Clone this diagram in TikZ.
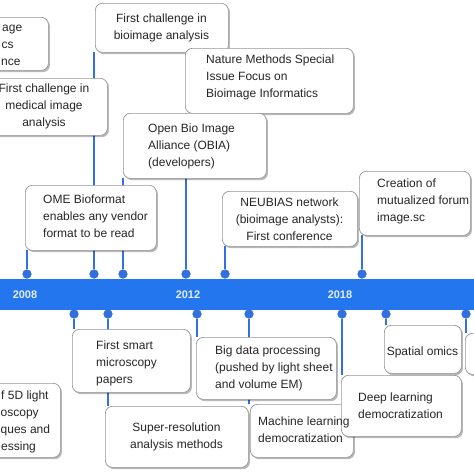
\documentclass[tikz,border=0pt]{standalone}
\usepackage{fontspec}
\setmainfont{Liberation Sans}
\usetikzlibrary{shadows}
\definecolor{bandblue}{RGB}{35,118,238}
\definecolor{connblue}{RGB}{50,112,222}
\definecolor{boxline}{RGB}{150,150,150}
\definecolor{yeartxt}{RGB}{228,238,255}
\tikzset{
  evbox/.style={draw=boxline, line width=0.7pt, fill=white, rounded corners=7pt,
    inner sep=0pt, anchor=north west,
    drop shadow={shadow xshift=1.6pt, shadow yshift=-1.8pt, fill=black, opacity=0.28}},
  evtxt/.style={font=\fontsize{12}{17}\selectfont, inner sep=0pt, text=black!85},
  connector/.style={draw=connblue, line width=2.6pt},
  evdot/.style={circle, fill=connblue, minimum size=9pt, inner sep=0pt},
  yearlbl/.style={font=\fontsize{11}{13}\selectfont\bfseries, text=yeartxt, inner sep=0pt},
}
\newcommand{\ebox}[4]{\node[evbox, minimum width=#3pt, minimum height=#4pt] (#1) at (#2) {};}
\begin{document}
\begin{tikzpicture}[x=1pt, y=-1pt]
\useasboundingbox (0,0) rectangle (474,474);
\clip (0,0) rectangle (474,474);
% band
\node[fill=bandblue, minimum width=474pt, minimum height=31pt, anchor=north west, inner sep=0pt] (band) at (0,279) {};
\node[yearlbl] (y2008) at (25,295) {2008};
\node[yearlbl] (y2012) at (188,295) {2012};
\node[yearlbl] (y2018) at (340,295) {2018};
% dots
\node[evdot] (t1) at (27,274) {};
\node[evdot] (t2) at (94,274) {};
\node[evdot] (t3) at (123,274) {};
\node[evdot] (t4) at (186,274) {};
\node[evdot] (t5) at (225,274) {};
\node[evdot] (t6) at (362,274) {};
\node[evdot] (b1) at (74,314) {};
\node[evdot] (b2) at (108,314) {};
\node[evdot] (b3) at (197,314) {};
\node[evdot] (b4) at (249,314) {};
\node[evdot] (b5) at (342,314) {};
\node[evdot] (b6) at (386,314) {};
\node[evdot] (b7) at (466,314) {};
% connector ends at box edges
\coordinate (omeS) at (27,250);
\coordinate (bioS) at (94,52);
\coordinate (obiaS) at (123,178);
\coordinate (natS) at (186,113);
\coordinate (neuS) at (225,246);
\coordinate (creS) at (362,235);
\coordinate (smartN) at (74,329);
\coordinate (supN) at (108,406);
\coordinate (bigN) at (197,337);
\coordinate (mlN) at (249,404);
\coordinate (deepN) at (342,375);
\coordinate (spatN) at (386,325);
\coordinate (rboxN) at (466,333);
% connectors
\draw[connector] (t1) -- (omeS);
\draw[connector] (t2) -- (bioS);
\draw[connector] (t3) -- (obiaS);
\draw[connector] (t4) -- (natS);
\draw[connector] (t5) -- (neuS);
\draw[connector] (t6) -- (creS);
\draw[connector] (b1) -- (smartN);
\draw[connector] (b2) -- (supN);
\draw[connector] (b3) -- (bigN);
\draw[connector] (b4) -- (mlN);
\draw[connector] (b5) -- (deepN);
\draw[connector] (b6) -- (spatN);
\draw[connector] (b7) -- (rboxN);
\foreach \d in {t1,t2,t3,t4,t5,t6,b1,b2,b3,b4,b5,b6,b7} {\fill[connblue] (\d) circle (4.5pt);}
% boxes, top
\ebox{tl}{-20,17}{68}{53}
\ebox{med}{-19,78}{126}{57}
\ebox{bio}{95,3}{133}{49}
\ebox{nat}{185,48}{168}{65}
\ebox{obia}{123,113}{143}{65}
\ebox{ome}{25,185}{131}{65}
\ebox{neu}{222,191}{135}{55}
\ebox{cre}{359,171}{111}{64}
% boxes, bottom
\ebox{smart}{72,329}{118}{63}
\ebox{sup}{105,406}{143}{61}
\ebox{big}{196,337}{140}{62}
\ebox{ml}{250,404}{103}{53}
\ebox{deep}{341,375}{120}{61}
\ebox{spat}{384,325}{77}{48}
\ebox{rbox}{465,333}{35}{41}
\ebox{bl}{-20,383}{80}{74}
% texts
\node[evtxt, anchor=base west] (tl1) at (2,31) {age};
\node[evtxt, anchor=base west] (tl2) at (1.5,48) {cs};
\node[evtxt, anchor=base west] (tl3) at (1,65) {nce};
\node[evtxt, align=center] (medt) at (44,106) {First challenge in\\medical image\\analysis};
\node[evtxt, align=center] (biot) at (161.5,27.5) {First challenge in\\bioimage analysis};
\node[evtxt, align=left, anchor=west] (natt) at (206,77) {Nature Methods Special\\Issue Focus on\\Bioimage Informatics};
\node[evtxt, align=left, anchor=west] (obiat) at (148,146) {Open Bio Image\\Alliance (OBIA)\\(developers)};
\node[evtxt, align=left, anchor=west] (omet) at (43,216) {OME Bioformat\\enables any vendor\\format to be read};
\node[evtxt, align=center] (neut) at (289.5,219) {NEUBIAS network\\(bioimage analysts):\\First conference};
\node[evtxt, align=left, anchor=west] (cret) at (377,201) {Creation of\\mutualized forum\\image.sc};
\node[evtxt, align=left, anchor=west] (smartt) at (96,363) {First smart\\microscopy\\papers};
\node[evtxt, align=center] (supt) at (176.5,437) {Super-resolution\\analysis methods};
\node[evtxt, align=left, anchor=west] (bigt) at (215,368) {Big data processing\\(pushed by light sheet\\and volume EM)};
\node[evtxt, align=left, anchor=west] (mlt) at (258,430) {Machine learning\\democratization};
\node[evtxt, align=left, anchor=west] (deept) at (358,405.5) {Deep learning\\democratization};
\node[evtxt] (spatt) at (422.5,352) {Spatial omics};
\node[evtxt, anchor=base west] (bl1) at (1,399) {f 5D light};
\node[evtxt, anchor=base west] (bl2) at (0.5,416) {oscopy};
\node[evtxt, anchor=base west] (bl3) at (0.5,433) {ques and};
\node[evtxt, anchor=base west] (bl4) at (1,450) {essing};
\end{tikzpicture}
\end{document}
